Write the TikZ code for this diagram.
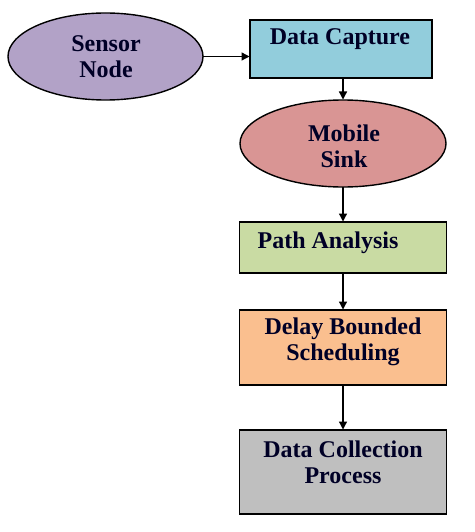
\documentclass[tikz,border=0pt]{standalone}
\usepackage{fontspec}
\setmainfont{Liberation Serif}
\usetikzlibrary{shapes.geometric,arrows.meta}
\definecolor{cpurple}{HTML}{B2A2C7}
\definecolor{cblue}{HTML}{92CDDC}
\definecolor{cred}{HTML}{D99594}
\definecolor{cgreen}{HTML}{C9DBA3}
\definecolor{corange}{HTML}{FABF8F}
\definecolor{cgray}{HTML}{BFBFBF}
\begin{document}
\begin{tikzpicture}[x=1pt,y=-1pt,
  shapebox/.style={draw=black, line width=1.4pt, inner sep=0pt, outer sep=0pt},
  ell/.style={shapebox, ellipse},
  rect/.style={shapebox, rectangle},
  lbl/.style={font=\bfseries\fontsize{24}{26}\selectfont, align=center, inner sep=0pt, text=black!85!blue},
  arr/.style={line width=1.3pt, -{Triangle[length=8pt,width=8pt]}, shorten >=0.5pt}]
\useasboundingbox[fill=white] (0,0) rectangle (474,532);
% shapes
\node[ell, fill=cpurple, minimum width=195pt, minimum height=87pt] (sensor) at (105.5,56.5) {};
\node[rect, fill=cblue, minimum width=182pt, minimum height=58pt] (capture) at (341,49) {};
\node[ell, fill=cred, minimum width=206pt, minimum height=87pt] (sink) at (343,143.5) {};
\node[rect, fill=cgreen, minimum width=207pt, minimum height=51pt] (path) at (343,247.5) {};
\node[rect, fill=corange, minimum width=207pt, minimum height=75pt] (delay) at (343,347.5) {};
\node[rect, fill=cgray, minimum width=207pt, minimum height=84pt] (collect) at (343,472) {};
% labels
\node[lbl] (tsensor) at (106,57) {Sensor\\Node};
\node[lbl] (tcapture) at (340,39) {Data Capture};
\node[lbl] (tsink) at (344,146) {Mobile\\Sink};
\node[lbl] (tpath) at (328,243) {Path Analysis};
\node[lbl] (tdelay) at (343,342) {Delay Bounded\\Scheduling};
\node[lbl] (tcollect) at (343,462) {Data Collection\\Process};
% connectors
\draw[arr] (sensor.east) -- (sensor.east -| capture.west);
\draw[arr] (capture.south -| sink.north) -- (sink.north);
\draw[arr] (sink.south) -- (path.north);
\draw[arr] (path.south) -- (delay.north);
\draw[arr] (delay.south) -- (collect.north);
\end{tikzpicture}
\end{document}
